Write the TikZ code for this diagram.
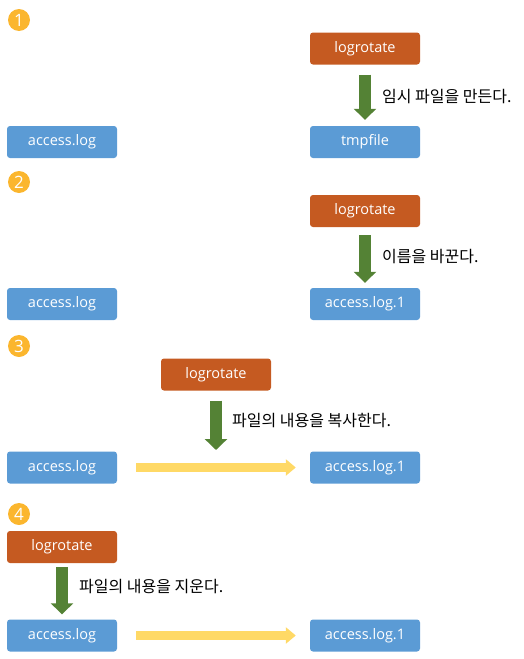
\documentclass[tikz,border=0pt]{standalone}
\usepackage{fontspec}
\setmainfont{Open Sans}
\newfontfamily\kr{Noto Sans CJK KR}
\usetikzlibrary{arrows.meta}
\definecolor{boxblue}{HTML}{5B9BD5}
\definecolor{boxorange}{HTML}{C55A21}
\definecolor{arrgreen}{HTML}{548235}
\definecolor{arryellow}{HTML}{FFD966}
\definecolor{badge}{HTML}{FBB62E}
\tikzset{
  filebox/.style={fill=boxblue, rounded corners=3pt, minimum width=110pt, minimum height=32pt, text=white, font=\fontsize{14.5}{16}\selectfont, inner sep=0pt},
  procbox/.style={filebox, fill=boxorange},
  greenarr/.style={draw=arrgreen, line width=12pt, -{Triangle[length=11pt,width=22pt]}},
  yellowarr/.style={draw=arryellow, line width=9pt, -{Triangle[length=10pt,width=16pt]}},
  steplabel/.style={font=\kr\fontsize{16}{18}\selectfont, anchor=west, inner sep=0pt},
  badgenode/.style={circle, fill=badge, minimum size=22pt, inner sep=0pt, text=white, font=\fontsize{17}{17}\selectfont}
}
\begin{document}
\begin{tikzpicture}[x=1pt,y=-1pt]
\useasboundingbox (0,0) rectangle (524,659);
% step 1
\node[badgenode] (b1) at (19,20) {1};
\node[procbox] (lr1) at (365,48.5) {logrotate};
\node[filebox] (tmp1) at (365,142) {tmpfile};
\node[filebox] (al1) at (62,142) {access.log};
\draw[greenarr, shorten <=10pt, shorten >=6pt] (lr1.south) -- (tmp1.north);
\node[steplabel] (t1) at (382,97) {임시 파일을 만든다.};
% step 2
\node[badgenode] (b2) at (19,182) {2};
\node[procbox] (lr2) at (365,211) {logrotate};
\node[filebox] (al21) at (365,304) {access.log.1};
\node[filebox] (al2) at (62,304) {access.log};
\draw[greenarr, shorten <=8pt, shorten >=5pt] (lr2.south) -- (al21.north);
\node[steplabel] (t2) at (382,257) {이름을 바꾼다.};
% step 3
\node[badgenode] (b3) at (19,346) {3};
\node[procbox] (lr3) at (216,374.5) {logrotate};
\node[filebox] (al3) at (62,467.5) {access.log};
\node[filebox] (al31) at (365,467.5) {access.log.1};
\coordinate (c3) at (216,450);
\draw[greenarr, shorten <=10pt] (lr3.south) -- (c3);
\draw[yellowarr, shorten <=19pt, shorten >=14pt] (al3.east) -- (al31.west);
\node[steplabel] (t3) at (232,421) {파일의 내용을 복사한다.};
% step 4
\node[badgenode] (b4) at (19,514) {4};
\node[procbox] (lr4) at (62,547) {logrotate};
\node[filebox] (al4) at (62,635.5) {access.log};
\node[filebox] (al41) at (365,635.5) {access.log.1};
\draw[greenarr, shorten <=4pt, shorten >=5pt] (lr4.south) -- (al4.north);
\draw[yellowarr, shorten <=19pt, shorten >=14pt] (al4.east) -- (al41.west);
\node[steplabel] (t4) at (79,587) {파일의 내용을 지운다.};
\end{tikzpicture}
\end{document}
